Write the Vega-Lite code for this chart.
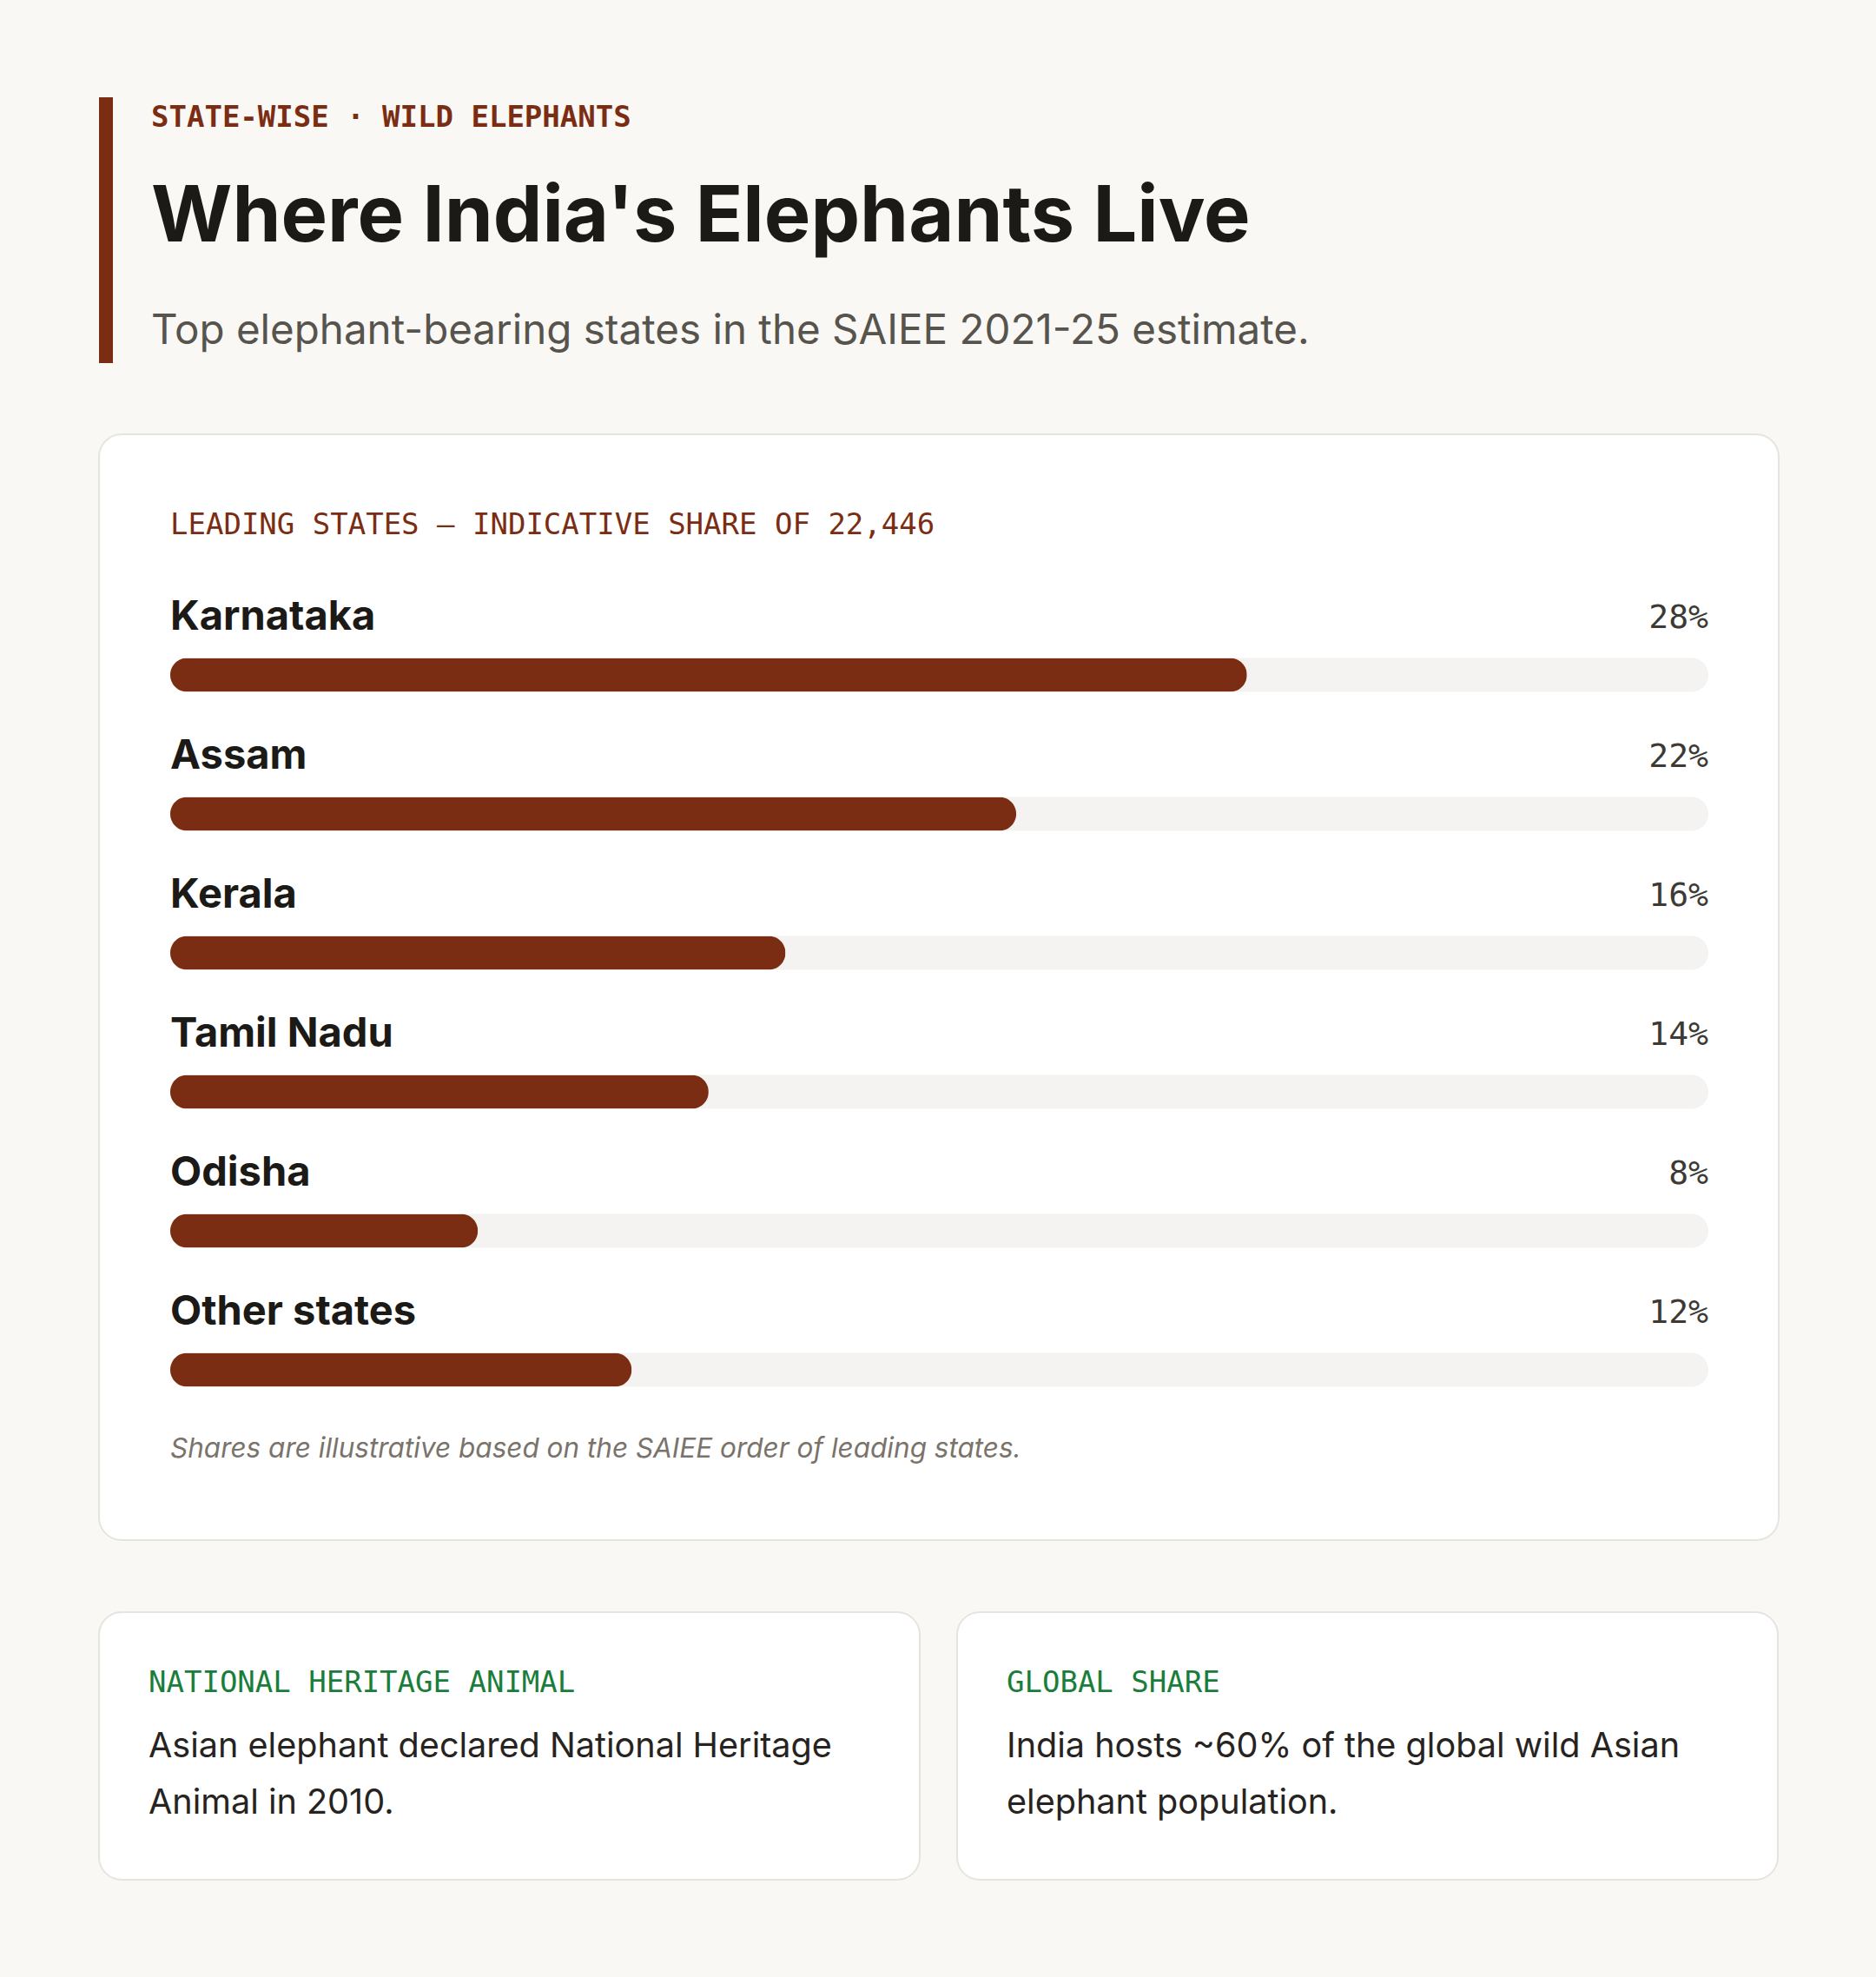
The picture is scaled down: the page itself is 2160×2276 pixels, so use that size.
{
  "$schema": "https://vega.github.io/schema/vega-lite/v6.json",
  "background": "#f9f8f4",
  "padding": {"left": 113, "top": 112, "right": 113, "bottom": 113},
  "spacing": 81,
  "config": {
    "view": {"stroke": null},
    "concat": {"spacing": 81},
    "text": {"baseline": "alphabetic"}
  },
  "datasets": {
    "header": [
      {"part": "kicker", "text": "STATE-WISE · WILD ELEPHANTS"},
      {"part": "title", "text": "Where India's Elephants Live"},
      {"part": "subtitle", "text": "Top elephant-bearing states in the SAIEE 2021-25 estimate."}
    ],
    "accent": [{"part": "accent"}],
    "states": [
      {"state": "Karnataka", "share": 0.28},
      {"state": "Assam", "share": 0.22},
      {"state": "Kerala", "share": 0.16},
      {"state": "Tamil Nadu", "share": 0.14},
      {"state": "Odisha", "share": 0.08},
      {"state": "Other states", "share": 0.12}
    ],
    "cardText": [
      {"row": "label", "text": "LEADING STATES — INDICATIVE SHARE OF 22,446"},
      {"row": "note", "text": "Shares are illustrative based on the SAIEE order of leading states."}
    ],
    "facts": [
      {"card": "heritage", "part": "label", "text": "NATIONAL HERITAGE ANIMAL"},
      {"card": "heritage", "part": "body", "text": "Asian elephant declared National Heritage\nAnimal in 2010."},
      {"card": "global", "part": "label", "text": "GLOBAL SHARE"},
      {"card": "global", "part": "body", "text": "India hosts ~60% of the global wild Asian\nelephant population."}
    ]
  },
  "vconcat": [
    {
      "spacing": 44,
      "hconcat": [
        {
          "width": 16,
          "height": 306,
          "data": {"name": "accent"},
          "mark": {"type": "rect", "color": "#7b2d14"},
          "encoding": {
            "x": {"datum": 0, "type": "quantitative", "scale": {"domain": [0, 1], "nice": false}, "axis": null},
            "x2": {"datum": 1},
            "y": {"datum": 0, "type": "quantitative", "scale": {"domain": [0, 1], "nice": false}, "axis": null},
            "y2": {"datum": 1}
          }
        },
        {
          "width": 1861,
          "height": 306,
          "data": {"name": "header"},
          "encoding": {
            "x": {"datum": 0, "type": "quantitative", "scale": {"domain": [0, 1], "nice": false}, "axis": null},
            "y": {"field": "part", "type": "nominal", "scale": {"type": "point", "domain": ["kicker", "title", "subtitle"], "range": [34, 284], "padding": 0}, "axis": null},
            "text": {"field": "text", "type": "nominal"}
          },
          "layer": [
            {
              "transform": [{"filter": "datum.part === 'kicker'"}],
              "mark": {"type": "text", "align": "left", "baseline": "alphabetic", "font": "DejaVu Sans Mono", "fontWeight": "bold", "fontSize": 34, "color": "#7b2d14"}
            },
            {
              "transform": [{"filter": "datum.part === 'title'"}],
              "mark": {"type": "text", "align": "left", "baseline": "alphabetic", "font": "Inter", "fontWeight": 700, "fontSize": 90, "dy": 7, "color": "#1c1a17"}
            },
            {
              "transform": [{"filter": "datum.part === 'subtitle'"}],
              "mark": {"type": "text", "align": "left", "baseline": "alphabetic", "font": "Inter", "fontWeight": 400, "fontSize": 47.5, "color": "#57534d"}
            }
          ]
        }
      ]
    },
    {
      "width": 1934,
      "height": 1273,
      "view": {"fill": "#ffffff", "stroke": "#e7e4df", "strokeWidth": 2, "cornerRadius": 26},
      "layer": [
        {
          "data": {"name": "states"},
          "mark": {"type": "bar", "height": 39, "cornerRadius": 19.5, "color": "#f4f3f1"},
          "encoding": {
            "x": {"datum": 0, "type": "quantitative", "scale": {"domain": [0, 0.4], "range": [82, 1853], "nice": false, "zero": true}, "axis": null},
            "x2": {"datum": 0.4},
            "y": {"field": "state", "type": "nominal", "scale": {"domain": ["label", "Karnataka", "Assam", "Kerala", "Tamil Nadu", "Odisha", "Other states", "note"], "range": [37, 1317], "paddingInner": 0, "paddingOuter": 0}, "axis": null}
          }
        },
        {
          "data": {"name": "states"},
          "mark": {"type": "bar", "height": 39, "cornerRadius": 19.5, "color": "#7b2d14"},
          "encoding": {
            "x": {"field": "share", "type": "quantitative", "scale": {"domain": [0, 0.4], "range": [82, 1853], "nice": false, "zero": true}, "axis": null},
            "y": {"field": "state", "type": "nominal", "scale": {"domain": ["label", "Karnataka", "Assam", "Kerala", "Tamil Nadu", "Odisha", "Other states", "note"], "range": [37, 1317], "paddingInner": 0, "paddingOuter": 0}, "axis": null}
          }
        },
        {
          "data": {"name": "states"},
          "mark": {"type": "text", "align": "left", "baseline": "alphabetic", "dy": -52, "font": "Inter", "fontWeight": 700, "fontSize": 47, "color": "#1c1a17"},
          "encoding": {
            "x": {"datum": 0, "type": "quantitative", "scale": {"domain": [0, 0.4], "range": [82, 1853], "nice": false, "zero": true}, "axis": null},
            "y": {"field": "state", "type": "nominal", "scale": {"domain": ["label", "Karnataka", "Assam", "Kerala", "Tamil Nadu", "Odisha", "Other states", "note"], "range": [37, 1317], "paddingInner": 0, "paddingOuter": 0}, "axis": null},
            "text": {"field": "state", "type": "nominal"}
          }
        },
        {
          "data": {"name": "states"},
          "mark": {"type": "text", "align": "right", "baseline": "alphabetic", "dy": -54, "font": "DejaVu Sans Mono", "fontSize": 38, "color": "#3d3a36"},
          "encoding": {
            "x": {"datum": 0.4, "type": "quantitative", "scale": {"domain": [0, 0.4], "range": [82, 1853], "nice": false, "zero": true}, "axis": null},
            "y": {"field": "state", "type": "nominal", "scale": {"domain": ["label", "Karnataka", "Assam", "Kerala", "Tamil Nadu", "Odisha", "Other states", "note"], "range": [37, 1317], "paddingInner": 0, "paddingOuter": 0}, "axis": null},
            "text": {"field": "share", "type": "quantitative", "format": ".0%"}
          }
        },
        {
          "data": {"name": "cardText"},
          "transform": [{"filter": "datum.row === 'label'"}],
          "mark": {"type": "text", "align": "left", "baseline": "alphabetic", "dy": -2, "font": "DejaVu Sans Mono", "fontSize": 34, "color": "#7b2d14"},
          "encoding": {
            "x": {"datum": 0, "type": "quantitative", "scale": {"domain": [0, 0.4], "range": [82, 1853], "nice": false, "zero": true}, "axis": null},
            "y": {"field": "row", "type": "nominal", "scale": {"domain": ["label", "Karnataka", "Assam", "Kerala", "Tamil Nadu", "Odisha", "Other states", "note"], "range": [37, 1317], "paddingInner": 0, "paddingOuter": 0}, "axis": null},
            "text": {"field": "text", "type": "nominal"}
          }
        },
        {
          "data": {"name": "cardText"},
          "transform": [{"filter": "datum.row === 'note'"}],
          "mark": {"type": "text", "align": "left", "baseline": "alphabetic", "dy": -59, "font": "Inter", "fontStyle": "italic", "fontSize": 31.5, "color": "#7a736b"},
          "encoding": {
            "x": {"datum": 0, "type": "quantitative", "scale": {"domain": [0, 0.4], "range": [82, 1853], "nice": false, "zero": true}, "axis": null},
            "y": {"field": "row", "type": "nominal", "scale": {"domain": ["label", "Karnataka", "Assam", "Kerala", "Tamil Nadu", "Odisha", "Other states", "note"], "range": [37, 1317], "paddingInner": 0, "paddingOuter": 0}, "axis": null},
            "text": {"field": "text", "type": "nominal"}
          }
        }
      ]
    },
    {
      "data": {"name": "facts"},
      "facet": {"column": {"field": "card", "type": "nominal", "sort": ["heritage", "global"], "header": null}},
      "spacing": 41,
      "spec": {
        "width": 945,
        "height": 308,
        "view": {"fill": "#ffffff", "stroke": "#e7e4df", "strokeWidth": 2, "cornerRadius": 26},
        "encoding": {
          "x": {"datum": 0, "type": "quantitative", "scale": {"domain": [0, 1], "range": [57, 945], "nice": false}, "axis": null},
          "y": {"field": "part", "type": "nominal", "scale": {"type": "point", "domain": ["label", "body"], "range": [92, 167], "padding": 0}, "axis": null},
          "text": {"field": "text", "type": "nominal"}
        },
        "layer": [
          {
            "transform": [{"filter": "datum.part === 'label'"}],
            "mark": {"type": "text", "align": "left", "baseline": "alphabetic", "font": "DejaVu Sans Mono", "fontSize": 34, "color": "#1b7d3b"}
          },
          {
            "transform": [{"filter": "datum.part === 'body'"}],
            "mark": {"type": "text", "align": "left", "baseline": "alphabetic", "lineBreak": "\n", "lineHeight": 65, "font": "Inter", "fontSize": 39.6, "color": "#262320"}
          }
        ]
      }
    }
  ]
}
